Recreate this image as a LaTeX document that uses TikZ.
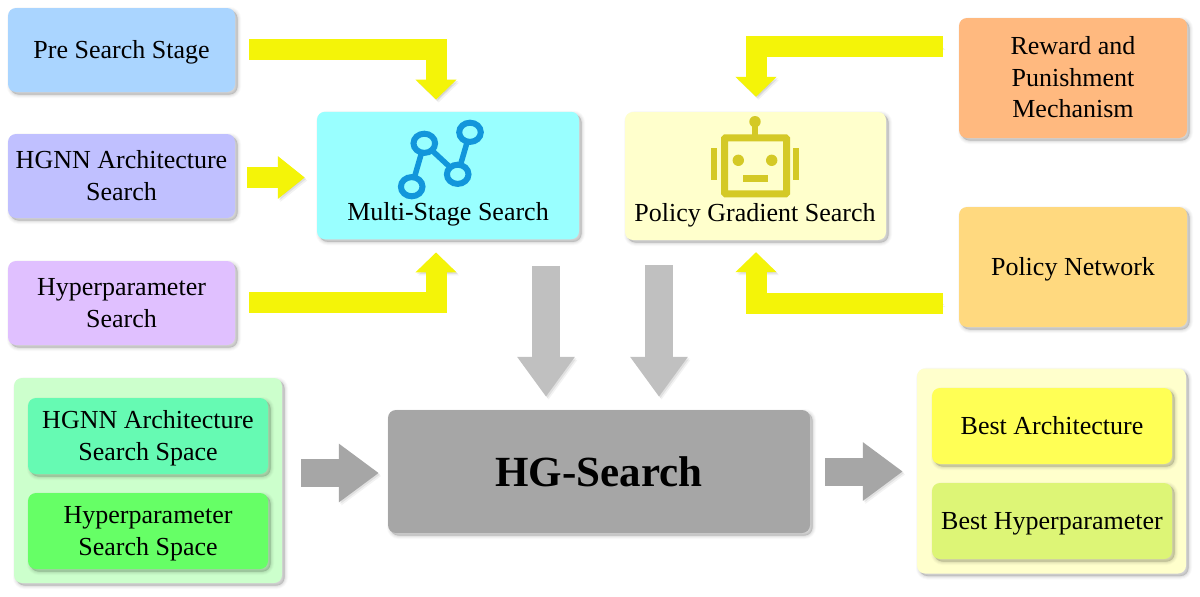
\documentclass[tikz,border=0pt]{standalone}
\usepackage{fontspec}
\setmainfont{Liberation Serif}
\usetikzlibrary{arrows.meta,shadows,calc}
\definecolor{yarrowc}{HTML}{F4F408}
\definecolor{garrowl}{HTML}{C0C0C0}
\definecolor{garrowd}{HTML}{A6A6A6}
\definecolor{iconblue}{HTML}{1296DB}
\definecolor{iconyel}{HTML}{D4C926}
\definecolor{cPre}{HTML}{AAD5FF}
\definecolor{cArch}{HTML}{C0C0FF}
\definecolor{cHyp}{HTML}{E0C0FF}
\definecolor{cMulti}{HTML}{99FFFF}
\definecolor{cPol}{HTML}{FFFFCC}
\definecolor{cRew}{HTML}{FFB97F}
\definecolor{cNet}{HTML}{FFD97F}
\definecolor{cLeft}{HTML}{CCFFCC}
\definecolor{cSA}{HTML}{66FAB3}
\definecolor{cSH}{HTML}{66FF66}
\definecolor{cBA}{HTML}{FFFF55}
\definecolor{cBH}{HTML}{DDF576}
\newcommand{\st}{\rule[-7.5pt]{0pt}{31.5pt}}
\tikzset{
  softshadow/.style={
    general shadow={fill=black,draw=black,line width=7pt,opacity=.025,shadow xshift=2.5pt,shadow yshift=-2.5pt},
    general shadow={fill=black,draw=black,line width=5pt,opacity=.03,shadow xshift=2.5pt,shadow yshift=-2.5pt},
    general shadow={fill=black,draw=black,line width=3pt,opacity=.04,shadow xshift=2.5pt,shadow yshift=-2.5pt},
    general shadow={fill=black,draw=black,line width=1pt,opacity=.05,shadow xshift=2.5pt,shadow yshift=-2.5pt}},
  boxnode/.style={softshadow,rounded corners=8pt,inner sep=0pt,align=center,
    font=\fontsize{26}{31.7}\selectfont},
  txt/.style={inner sep=0pt,align=center,font=\fontsize{26}{31.7}\selectfont},
  armshadow/.style={
    preaction={draw=black,opacity=.05,transform canvas={shift={(2.5pt,-3pt)}}},
    preaction={draw=black,opacity=.07,transform canvas={shift={(1.5pt,-1.5pt)}}}},
  yarrow/.style={armshadow,draw=yarrowc,line width=21pt,
    -{Triangle[length=20pt,width=40pt]}},
  yarrowshort/.style={armshadow,draw=yarrowc,line width=21pt,
    -{Triangle[length=27pt,width=41pt]}},
  gdown/.style={armshadow,draw=garrowl,line width=28pt,
    -{Triangle[length=40pt,width=55pt]}},
  gside/.style={armshadow,draw=garrowd,line width=28pt,
    -{Triangle[length=40pt,width=56pt]}},
  iconline/.style={draw=iconblue,line width=5.5pt},
  iconring/.style={draw=iconblue,line width=6pt,fill=cMulti},
}
\begin{document}
\begin{tikzpicture}[x=1pt,y=-1pt]
\useasboundingbox[fill=white] (0,0) rectangle (1200,597);
% containers
\node[boxnode,fill=cLeft,minimum width=268pt,minimum height=205pt] (spacebox) at (148,480.5) {};
\node[boxnode,fill=cPol,minimum width=269pt,minimum height=205pt] (bestbox) at (1051.5,471) {};
% boxes
\node[boxnode,fill=cPre,minimum width=227pt,minimum height=84pt] (pre) at (121.5,50) {\st Pre Search Stage\st};
\node[boxnode,fill=cArch,minimum width=227pt,minimum height=84pt] (arch) at (121.5,176) {\st HGNN Architecture\st\\\st Search\st};
\node[boxnode,fill=cHyp,minimum width=227pt,minimum height=84pt] (hyper) at (121.5,303) {\st Hyperparameter\st\\\st Search\st};
\node[boxnode,fill=cMulti,minimum width=262pt,minimum height=127.5pt] (multi) at (448,175.5) {};
\node[boxnode,fill=cPol,minimum width=261pt,minimum height=128pt] (policy) at (755.5,176) {};
\node[boxnode,fill=cRew,minimum width=228pt,minimum height=120pt] (reward) at (1073,78) {\st Reward and\st\\\st Punishment\st\\\st Mechanism\st};
\node[boxnode,fill=cNet,minimum width=228pt,minimum height=120pt] (net) at (1073,267) {\st Policy Network\st};
\node[boxnode,fill=garrowd,minimum width=422pt,minimum height=123pt,font=\fontsize{43}{46}\selectfont\bfseries] (hg) at (599,471.5) {HG-Search};
\node[boxnode,fill=cSA,minimum width=240pt,minimum height=76pt] (sa) at (148,436) {\st HGNN Architecture\st\\\st Search Space\st};
\node[boxnode,fill=cSH,minimum width=240pt,minimum height=76pt] (sh) at (148,531) {\st Hyperparameter\st\\\st Search Space\st};
\node[boxnode,fill=cBA,minimum width=240pt,minimum height=76pt] (ba) at (1052,426) {\st Best Architecture\st};
\node[boxnode,fill=cBH,minimum width=240pt,minimum height=76pt] (bh) at (1052,521) {\st Best Hyperparameter\st};
% labels of the two icon boxes
\node[txt] (multilabel) at (448,211.75) {\st Multi-Stage Search\st};
\node[txt] (policylabel) at (755,213.5) {\st Policy Gradient Search\st};
% multi-stage icon
\draw[iconline] (411.7,186.7) -- (424.3,143.3) -- (457.7,174.3) -- (470,132.3);
\foreach \px/\py in {411.7/186.7,424.3/143.3,457.7/174.3,470/132.3}
  \draw[iconring] (\px,\py) ellipse [x radius=10.8pt,y radius=9.6pt];
% robot icon
\draw[draw=iconyel,line width=7pt,rounded corners=1pt] (724.5,137.8) rectangle (786.5,193.8);
\fill[iconyel] (752,122) rectangle (758,135);
\fill[iconyel] (755,121.7) circle [radius=5.7pt];
\fill[iconyel] (738.3,160.3) circle [radius=5.7pt];
\fill[iconyel] (771.7,160.3) circle [radius=5.7pt];
\fill[iconyel] (742.7,175.3) rectangle (767.7,181.7);
\fill[iconyel] (711,148.3) rectangle (717.3,180);
\fill[iconyel] (793,148.3) rectangle (799.3,180);
% yellow connectors
\draw[yarrow] ([xshift=14pt,yshift=.5pt]pre.east) -| ([xshift=-12pt,yshift=12pt]multi.north);
\draw[yarrowshort] ([xshift=12pt,yshift=-1.5pt]arch.east) -- ([xshift=-12pt,yshift=-2pt]multi.west);
\draw[yarrow] ([xshift=14pt,yshift=.5pt]hyper.east) -| ([xshift=-12pt,yshift=-13pt]multi.south);
\draw[yarrow] ([xshift=-16pt,yshift=31.5pt]reward.west) -| ([xshift=.5pt,yshift=15pt]policy.north);
\draw[yarrow] ([xshift=-16pt,yshift=-36pt]net.west) -| ([xshift=.5pt,yshift=-12pt]policy.south);
% grey connectors
\draw[gdown] ([xshift=98pt,yshift=-26.5pt]multi.south) -- ([xshift=-53pt,yshift=13pt]hg.north);
\draw[gdown] ([xshift=-96.5pt,yshift=-25pt]policy.south) -- ([xshift=60pt,yshift=13pt]hg.north);
\draw[gside] ([xshift=19pt,yshift=7.5pt]spacebox.east) -- ([xshift=-9pt,yshift=-1.5pt]hg.west);
\draw[gside] ([xshift=15pt]hg.east) -- ([xshift=-14pt]$(bestbox.west)+(0,.5)$);
\end{tikzpicture}
\end{document}
